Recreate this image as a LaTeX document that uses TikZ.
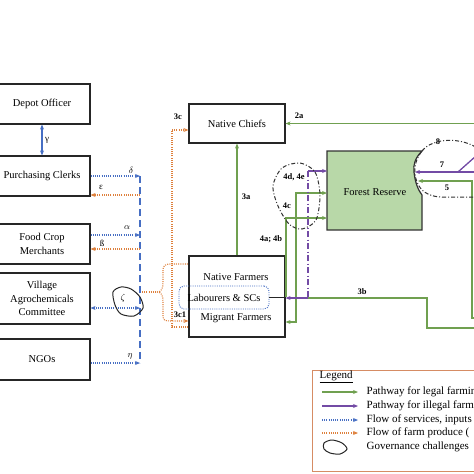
\documentclass[tikz,border=0pt]{standalone}
\usepackage{fontspec}
\setmainfont{Liberation Serif}
\usetikzlibrary{arrows.meta}
\definecolor{legalgreen}{RGB}{112,160,80}
\definecolor{illpurple}{RGB}{115,75,165}
\definecolor{servblue}{RGB}{70,110,195}
\definecolor{prodorange}{RGB}{222,128,60}
\definecolor{forestfill}{RGB}{184,216,168}
\definecolor{legendc}{RGB}{214,140,100}

\begin{document}
\begin{tikzpicture}
        [x=1pt,y=-1pt,>={Stealth[length=5pt,width=4pt]}]
        \tikzstyle{box}=[draw=black!85, line width=1.2pt, minimum width=96pt,
        minimum height=40pt, align=center, inner sep=1pt,
        font=\fontsize{10.5}{13.5}\selectfont]
        \tikzstyle{txt}=[inner sep=1pt, font=\fontsize{10.5}{13.5}\selectfont]
        \tikzstyle{lab}=[inner sep=0.5pt, font=\fontsize{8.5}{10}\selectfont\bfseries]
        \tikzstyle{glab}=[inner sep=0.5pt, font=\fontsize{9}{10}\selectfont]
        \tikzstyle{keytxt}=[inner sep=0.5pt, anchor=west, font=\fontsize{11}{12}\selectfont]
        \tikzstyle{legal}=[draw=legalgreen, line width=1.1pt]
        \tikzstyle{illegal}=[draw=illpurple, line width=1.3pt]
        \tikzstyle{serv}=[draw=servblue, line width=1.1pt, dash pattern=on 1pt off 1.2pt]
        \tikzstyle{prod}=[draw=prodorange, line width=1.1pt, dash pattern=on 1pt off 1.2pt]
        \tikzstyle{bus}=[draw=servblue, line width=1.1pt, dash pattern=on 7pt off 4pt]
        \tikzstyle{gov}=[draw=black!80, line width=1pt, dash pattern=on 4pt off 2pt on 1pt off 2pt]
        \useasboundingbox (0,0) rectangle (474,474);
        \clip (0,0) rectangle (474,474);

        %-----left column
         \node[box] (depot) at (42,104) {Depot Officer};
         \node[box] (clerks) at (42,176) {Purchasing Clerks};
         \node[box] (merch) at (42,244) {Food Crop\\Merchants};
         \node[box, minimum height=51pt] (vac) at (42,298.5) {Village\\Agrochemicals\\Committee};
         \node[box, minimum height=41pt] (ngo) at (42,359.5) {NGOs};

        %-----middle
         \node[box, minimum height=39pt] (chiefs) at (237,123.5) {Native Chiefs};
         \node[box, minimum height=81pt] (farmers) at (237,296.5) {};
         \node[txt] (nativef) at (236,277) {Native Farmers};
         \node[txt] (migrantf) at (236,318) {Migrant Farmers};
         \node[txt, draw=servblue, dash pattern=on 1pt off 1.2pt, line width=0.9pt,
           rounded corners=5pt, minimum width=90pt, minimum height=23pt] (labour) at (224,297.5) {Labourers \& SCs};

        %-----forest
         \draw[fill=forestfill, draw=black!80, line width=1.2pt] (327,151) -- (422,151)
           .. controls (415,158) and (413,165) .. (414,172)
           .. controls (415,182) and (418,190) .. (422,195) -- (422,230) -- (327,230) -- cycle;
         \node[txt] (forest) at (375,192) {Forest Reserve};

        %-----bus
         \coordinate (b1) at (140,176);
         \coordinate (b2) at (140,195);
         \coordinate (b3) at (140,235);
         \coordinate (b4) at (140,249);
         \coordinate (b5) at (140,308);
         \coordinate (b6) at (140,363);
         \coordinate (b7) at (142,292);
         \draw[bus] (b1) -- (b6);

         \draw[draw=servblue, line width=1.2pt, <->] (depot) -- (clerks);
         \draw[serv,->] (clerks.east) -- (b1);
         \draw[prod,->] (b2) -- (b2 -| clerks.east);
         \draw[serv,->] (b3 -| merch.east) -- (b3);
         \draw[prod,->] (b4) -- (b4 -| merch.east);
         \draw[serv,<->] (b5 -| vac.east) -- (b5);
         \draw[serv,->] (b6 -| ngo.east) -- (b6);

         \node[glab] (lgamma) at (47,140) {γ};
         \node[glab] (ldelta) at (131,170) {$\delta$};
         \node[glab] (leps) at (101,187) {ε};
         \node[glab] (lalpha) at (127,228) {$\alpha$};
         \node[glab] (lbeta) at (102,243) {ß};
         \node[glab] (lzeta) at (123,298) {$\zeta$};
         \node[glab] (leta) at (130,356) {$\eta$};

         \draw[black!85, line width=1pt] plot[smooth cycle] coordinates
           {(113,292) (121,287) (131,289) (140,297) (143,308) (134,316) (121,314) (115,305)};

        %-----farm produce
         \draw[prod] (b7) -- (157,292);
         \draw[prod] (157,292) .. controls (162,292) and (163,288) .. (163,282) -- (163,270)
           .. controls (163,266) and (165,264) .. (170,264) -- (farmers.west |- 0,264);
         \draw[prod,->] (157,292) .. controls (162,292) and (163,296) .. (163,302) -- (163,316)
           .. controls (163,320) and (165,321) .. (170,321) -- (farmers.west |- 0,321);
         \draw[prod,->] (farmers.west |- 0,327) -- (172,327) -- (172,130) -- (chiefs.west |- 0,130);
         \node[lab] (l3c) at (178,117) {3c};
         \node[lab] (l3cone) at (180,315) {3c1};

        %-----legal pathways
         \draw[legal,->] (farmers) -- (chiefs);
         \draw[legal,->] (480,123.5) -- (chiefs.east);
         \draw[legal] (480,328) -- (427,328) -- (427,298) -- (308,298);
         \draw[legal,->] (286,297) -- (286,218) -- (327,218);
         \draw[legal,<->] (farmers.east |- 0,322) -- (296,322) -- (296,193) -- (327,193);
         \draw[legal,->] (480,318) -- (472,318) -- (472,181) -- (418,181);
         \node[lab] (l2a) at (299,116) {2a};
         \node[lab] (l3a) at (246,197) {3a};
         \node[lab] (l3b) at (362,292) {3b};
         \node[lab] (l4ab) at (271,239) {4a; 4b};
         \node[lab] (l5) at (447,188) {5};

        %-----illegal pathways
         \draw[illegal,->] (480,172) -- (415,172);
         \draw[illegal] (458,172) -- (476,156);
         \draw[illegal,->] (308,171) -- (327,171);
         \draw[illegal, dash pattern=on 6pt off 2.5pt on 1pt off 2.5pt] (308,171) -- (308,298);
         \draw[illegal,->] (308,298) -- (farmers.east |- 0,298);
         \draw[black!85, line width=1.2pt] (labour.east) -- (farmers.east |- labour.east);
         \node[lab] (l7) at (442,165) {7};
         \node[lab] (l8) at (438,142) {8};

        %-----governance
         \draw[gov] plot[smooth cycle] coordinates
           {(300,163) (315,172) (320,195) (316,220) (302,229) (289,224) (278,206) (273,186) (282,168)};
         \draw[gov] (422,151) .. controls (432,138) and (462,136) .. (480,150) -- (480,197) -- (442,197)
           .. controls (432,197) and (423,193) .. (419,186) .. controls (413,176) and (413,162) .. (422,151);
         \node[lab] (l4de) at (294,177) {4d, 4e};
         \node[lab] (l4c) at (287,206) {4c};

        %-----legend
         \draw[draw=legendc, line width=1pt] (312,370) rectangle (490,471);
         \node[keytxt] (legend) at (319,377) {\underline{Legend}};
         \coordinate (k1) at (322,392); \coordinate (k1e) at (358,392);
         \coordinate (k2) at (322,406); \coordinate (k2e) at (358,406);
         \coordinate (k3) at (322,420); \coordinate (k3e) at (358,420);
         \coordinate (k4) at (322,433); \coordinate (k4e) at (358,433);
         \draw[legal,->] (k1) -- (k1e);
         \draw[illegal,->] (k2) -- (k2e);
         \draw[serv,->] (k3) -- (k3e);
         \draw[prod,->] (k4) -- (k4e);
         \draw[black!85, line width=1pt] plot[smooth cycle] coordinates
           {(324,443) (332,440) (342,443) (347,449) (340,454) (330,453) (324,449)};
         \node[keytxt] (leg1) at (366,392) {Pathway for legal farming};
         \node[keytxt] (leg2) at (366,406) {Pathway for illegal farming};
         \node[keytxt] (leg3) at (366,420) {Flow of services, inputs};
         \node[keytxt] (leg4) at (366,433) {Flow of farm produce (};
         \node[keytxt] (leg5) at (366,447) {Governance challenges};

        \end{tikzpicture}
\end{document}
